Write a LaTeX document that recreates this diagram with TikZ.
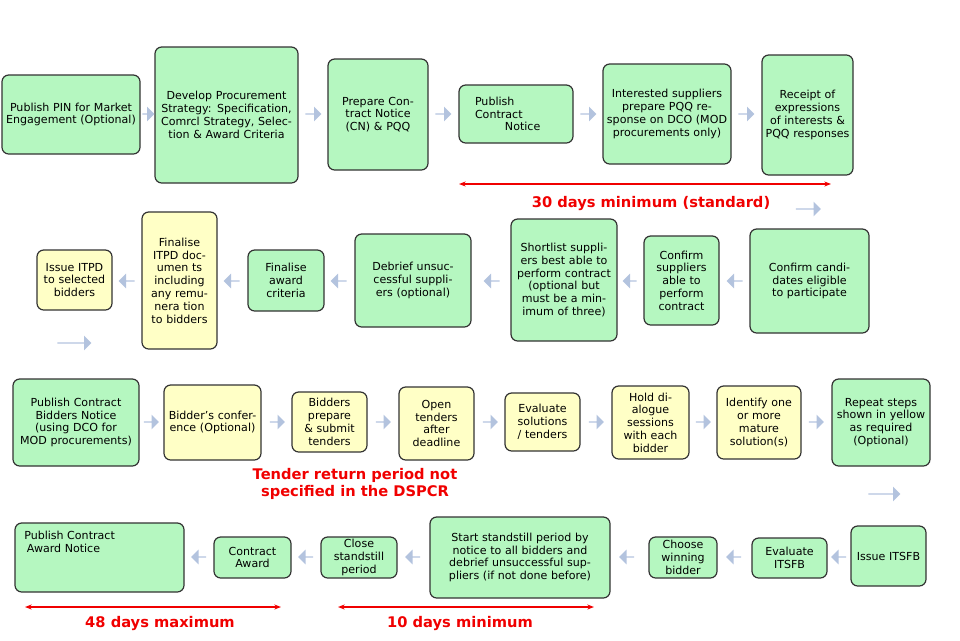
\documentclass[tikz,border=0pt]{standalone}
\usepackage{fontspec}
\setmainfont{DejaVu Sans}
\usetikzlibrary{shapes.arrows,arrows.meta}
\definecolor{gbox}{HTML}{B5F7C0}
\definecolor{ybox}{HTML}{FFFFC6}
\definecolor{barrow}{HTML}{B3C3DE}
\definecolor{redt}{HTML}{F00000}
\tikzset{
 stepbox/.style={draw=black!80,line width=0.9pt,rounded corners=5pt,align=center,inner sep=1pt,font=\fontsize{8.3}{9.6}\selectfont},
 gr/.style={stepbox,fill=gbox},
 yl/.style={stepbox,fill=ybox},
 blk/.style={single arrow,fill=barrow,draw=none,single arrow head extend=2pt,inner sep=0pt},
 span/.style={draw=redt,line width=1pt,{Stealth[length=5pt]}-{Stealth[length=5pt]}},
 redlab/.style={text=redt,font=\bfseries\fontsize{11}{13}\selectfont,align=center},
}
\newcommand{\bx}[7]{\node[#6,minimum width={(#4-#2)*0.75pt},minimum height={(#5-#3)*0.75pt},text width={(#4-#2)*0.75pt-4pt}] (#1) at ({(#2+#4)/2},{(#3+#5)/2}) {#7};}
\newcommand{\barr}[5]{\node[blk,minimum height={#4*0.75pt},minimum width=11pt,shape border rotate=#5] (#1) at (#2,#3) {};}
\begin{document}
\begin{tikzpicture}[x=0.75pt,y=-0.75pt]
\useasboundingbox (0,0) rectangle (960,640);
% row 1
\bx{a1}{2}{75}{140}{154}{gr}{Publish PIN for Market Engagement (Optional)}
\bx{a2}{155}{47}{298}{183}{gr}{Develop Procurement Strategy: Specification, Comrcl Strategy, Selection \& Award Criteria}
\bx{a3}{328}{59}{428}{170}{gr}{Prepare Contract Notice (CN) \& PQQ}
\bx{a4}{459}{85}{573}{143}{gr}{\raggedright\hspace*{10pt}Publish\\\hspace*{10pt}Contract\\\hspace*{10pt}Notice}
\bx{a5}{603}{64}{731}{164}{gr}{Interested suppliers prepare PQQ response on DCO (MOD procurements only)}
\bx{a6}{762}{55}{853}{175}{gr}{Receipt of expressions of interests \& PQQ responses}
\barr{r1}{148}{114}{12}{0}
\barr{r2}{313}{114}{16}{0}
\barr{r3}{443}{114}{16}{0}
\barr{r4}{588}{114}{16}{0}
\barr{r5}{746}{114}{16}{0}
\coordinate (s1a) at (459,184); \coordinate (s1b) at (831,184);
\draw[span] (s1a) -- (s1b);
\node[redlab] (l1) at (651,204) {30 days minimum (standard)};
\barr{d1}{808}{209}{25}{-90}
% row 2
\bx{b1}{750}{229}{869}{333}{gr}{Confirm candidates eligible to participate}
\bx{b2}{644}{236}{719}{325}{gr}{Confirm suppliers able to perform contract}
\bx{b3}{511}{219}{617}{341}{gr}{Shortlist suppliers best able to perform contract (optional but must be a minimum of three)}
\bx{b4}{355}{234}{471}{327}{gr}{Debrief unsuccessful suppliers (optional)}
\bx{b5}{248}{250}{324}{311}{gr}{Finalise award criteria}
\bx{b6}{142}{212}{217}{349}{yl}{Finalise ITPD documen ts including any remunera tion to bidders}
\bx{b7}{37}{250}{112}{310}{yl}{Issue ITPD to selected bidders}
\barr{q1}{735}{281}{16}{180}
\barr{q2}{630}{281}{14}{180}
\barr{q3}{492}{281}{16}{180}
\barr{q4}{339}{281}{16}{180}
\barr{q5}{232}{281}{16}{180}
\barr{q6}{127}{281}{16}{180}
\barr{d2}{74}{343}{34}{-90}
% row 3
\bx{c1}{13}{379}{139}{466}{gr}{Publish Contract Bidders Notice (using DCO for MOD procurements)}
\bx{c2}{164}{385}{261}{460}{yl}{Bidder's conference (Optional)}
\bx{c3}{292}{392}{367}{452}{yl}{Bidders prepare \& submit tenders}
\bx{c4}{399}{387}{474}{460}{yl}{Open tenders after deadline}
\bx{c5}{505}{393}{580}{451}{yl}{Evaluate solutions / tenders}
\bx{c6}{612}{386}{689}{459}{yl}{Hold dialogue sessions with each bidder}
\bx{c7}{717}{386}{801}{459}{yl}{Identify one or more mature solution(s)}
\bx{c8}{832}{379}{930}{466}{gr}{Repeat steps shown in yellow as required (Optional)}
\barr{p1}{151}{422}{15}{0}
\barr{p2}{277}{422}{15}{0}
\barr{p3}{383}{422}{15}{0}
\barr{p4}{490}{422}{15}{0}
\barr{p5}{596}{422}{15}{0}
\barr{p6}{703}{422}{15}{0}
\barr{p7}{816}{422}{15}{0}
\node[redlab] (l2) at (355,484) {Tender return period not\\specified in the DSPCR};
\barr{d3}{884}{494}{32}{-90}
% row 4
\bx{e1}{851}{526}{926}{586}{gr}{Issue ITSFB}
\bx{e2}{752}{538}{827}{578}{gr}{Evaluate ITSFB}
\bx{e3}{649}{537}{717}{578}{gr}{Choose winning bidder}
\bx{e4}{430}{517}{610}{598}{gr}{Start standstill period by notice to all bidders and debrief unsuccessful suppliers (if not done before)}
\bx{e5}{321}{537}{397}{578}{gr}{Close standstill period}
\bx{e6}{214}{537}{291}{578}{gr}{Contract Award}
\node[gr,minimum width={169*0.75pt},minimum height={69*0.75pt}] (e7) at (99.5,557.5) {};
\node[anchor=north west,align=left,font=\fontsize{8.3}{9.6}\selectfont,inner sep=0pt] (e7t) at (24,531) {Publish Contract\\\hspace*{2pt}Award Notice};
\barr{o1}{839}{557}{15}{180}
\barr{o2}{734}{557}{15}{180}
\barr{o3}{627}{557}{15}{180}
\barr{o4}{413}{557}{15}{180}
\barr{o5}{306}{557}{15}{180}
\barr{o6}{199}{557}{15}{180}
\coordinate (s2a) at (25,607); \coordinate (s2b) at (281,607);
\draw[span] (s2a) -- (s2b);
\node[redlab] (l3) at (160,623) {48 days maximum};
\coordinate (s3a) at (338,607); \coordinate (s3b) at (594,607);
\draw[span] (s3a) -- (s3b);
\node[redlab] (l4) at (460,623) {10 days minimum};
\end{tikzpicture}
\end{document}
